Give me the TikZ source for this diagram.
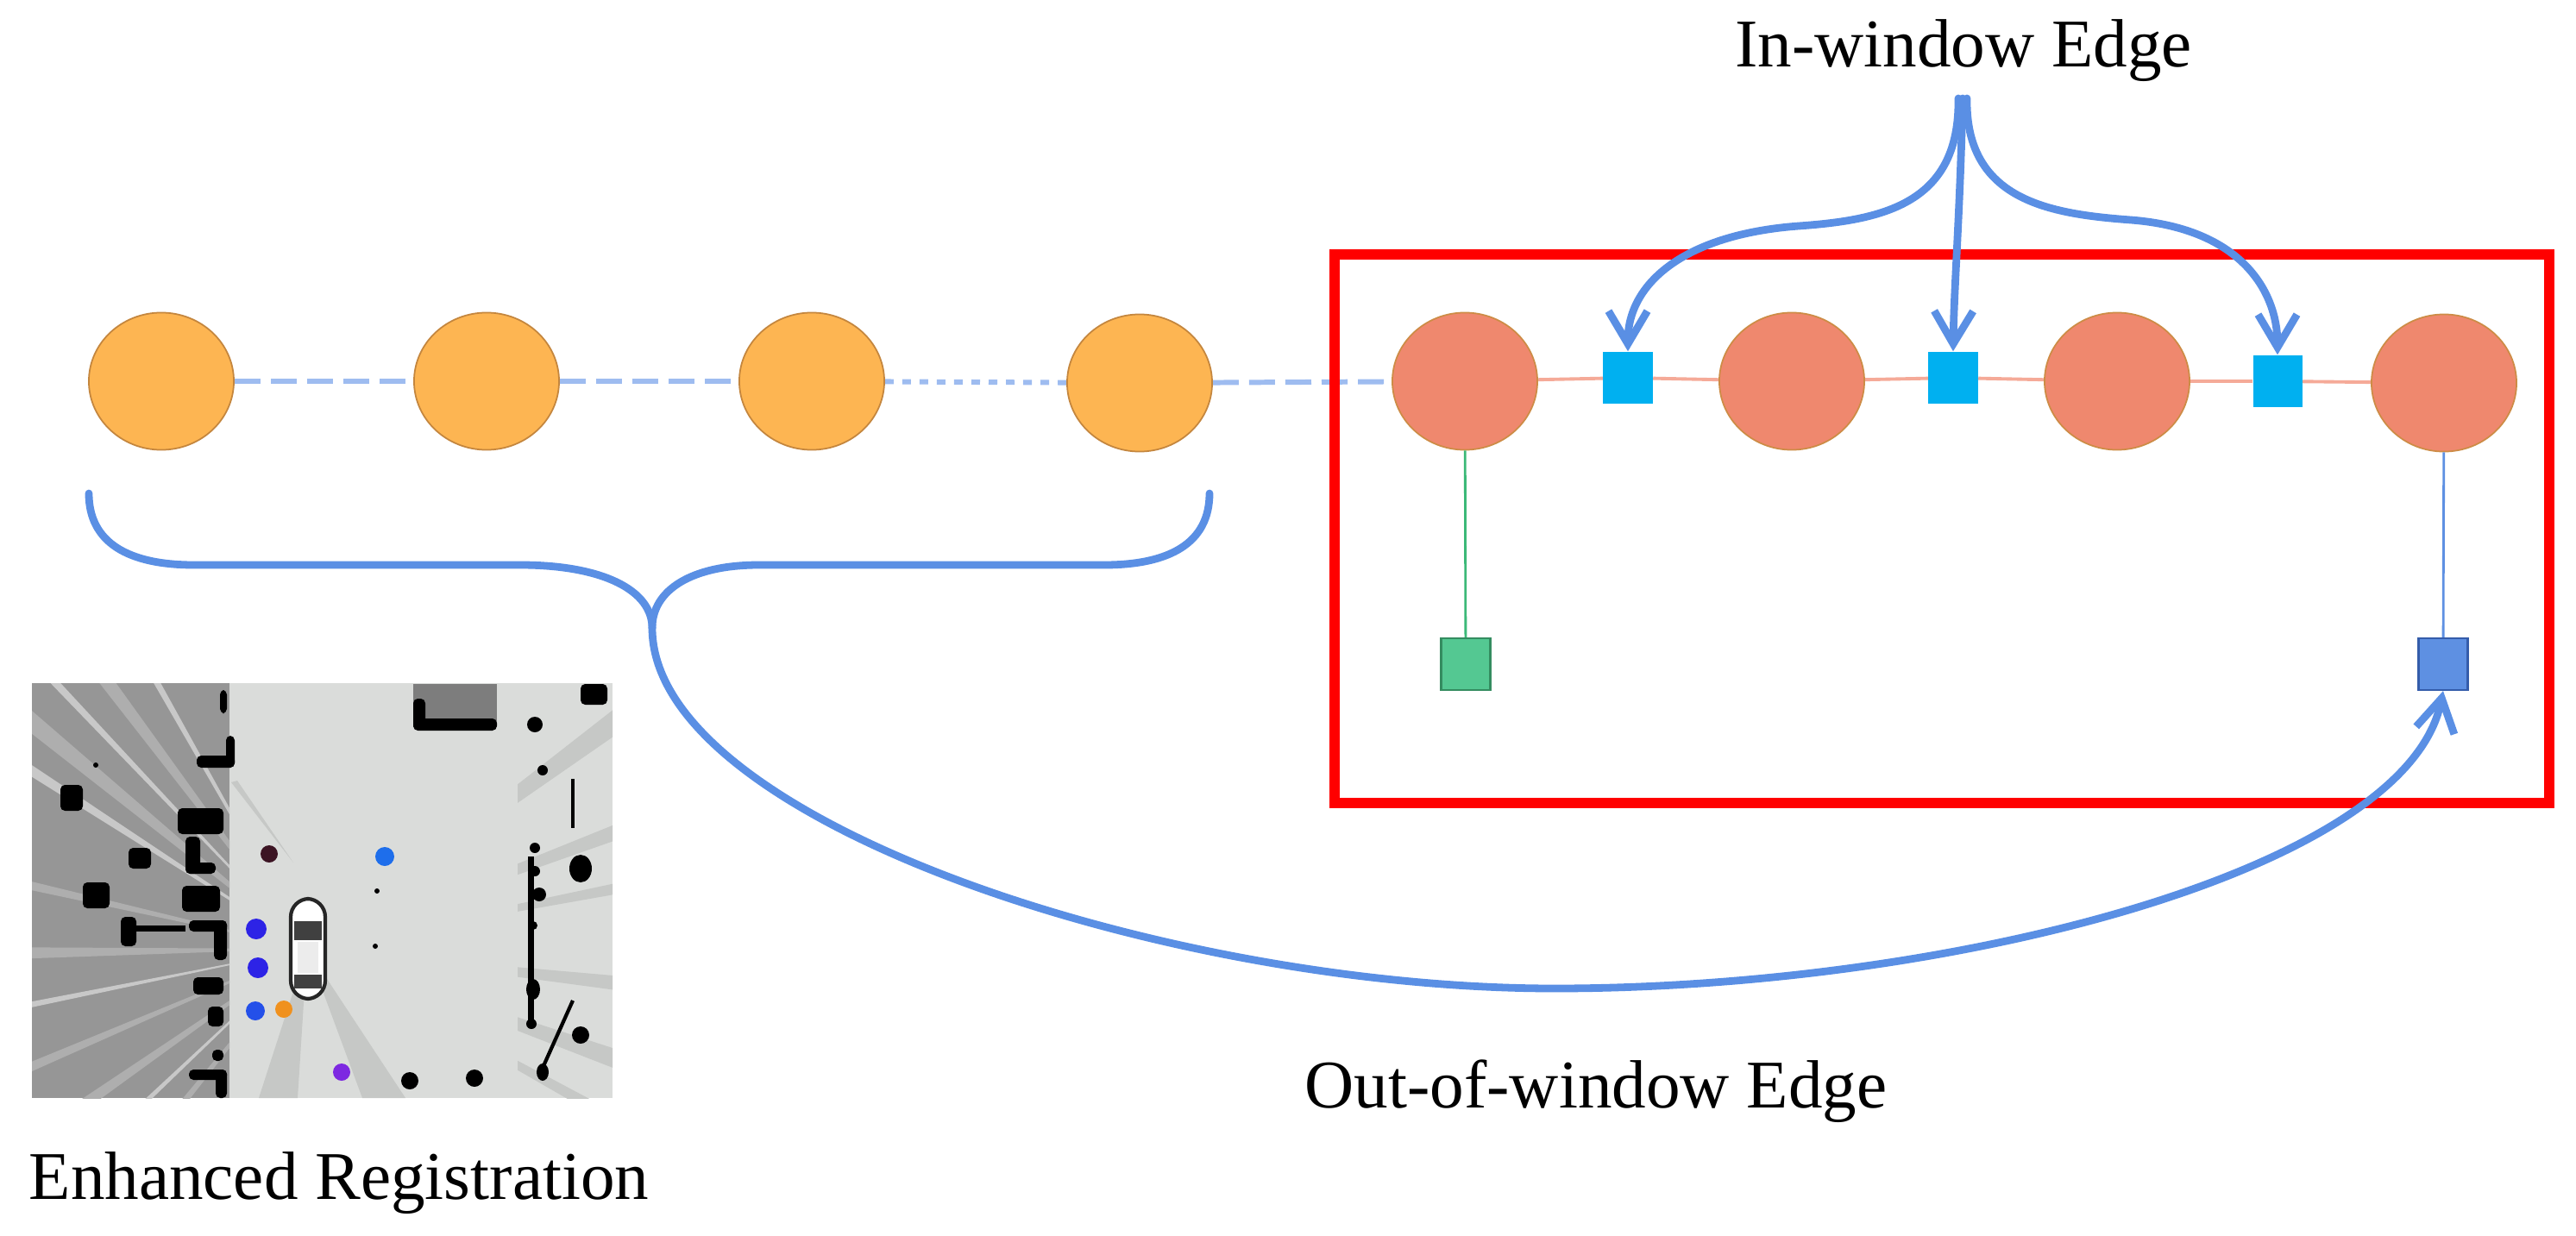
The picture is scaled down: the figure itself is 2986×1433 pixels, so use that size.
\documentclass[tikz,border=0pt]{standalone}
\usepackage{fontspec}
\setmainfont{Liberation Serif}
\usetikzlibrary{arrows.meta,shapes.geometric,backgrounds}

\definecolor{orangeC}{RGB}{253,181,82}
\definecolor{orangeD}{RGB}{196,134,62}
\definecolor{salmonC}{RGB}{239,136,110}
\definecolor{salmonD}{RGB}{205,140,70}
\definecolor{cyanC}{RGB}{0,176,240}
\definecolor{greenC}{RGB}{84,200,146}
\definecolor{greenD}{RGB}{52,140,96}
\definecolor{greenL}{RGB}{60,185,120}
\definecolor{blueC}{RGB}{94,144,226}
\definecolor{blueD}{RGB}{52,92,170}
\definecolor{arrowC}{RGB}{90,143,228}
\definecolor{dashC}{RGB}{158,188,240}
\definecolor{lineR}{RGB}{245,170,152}
\definecolor{frameR}{RGB}{255,0,0}
\definecolor{photoL}{RGB}{218,220,218}
\definecolor{photoM}{RGB}{198,200,198}
\definecolor{photoD}{RGB}{150,150,150}
\definecolor{rayL}{RGB}{174,174,174}
\definecolor{rayW}{RGB}{200,200,200}
\definecolor{blockG}{RGB}{125,125,125}
\definecolor{dotK}{RGB}{60,20,35}
\definecolor{dotB}{RGB}{45,35,230}
\definecolor{dotC}{RGB}{30,110,235}
\definecolor{dotO}{RGB}{240,145,30}
\definecolor{dotP}{RGB}{125,40,225}

\begin{document}
\begin{tikzpicture}[x=0.01cm,y=-0.01cm,
  pose/.style={ellipse, minimum width=1.68cm, minimum height=1.59cm, inner sep=0pt, line width=0.5pt},
  oldpose/.style={pose, fill=orangeC, draw=orangeD},
  winpose/.style={pose, fill=salmonC, draw=salmonD},
  factor/.style={rectangle, minimum width=0.57cm, minimum height=0.60cm, inner sep=0pt},
  inedge/.style={factor, fill=cyanC},
  priorbox/.style={factor, fill=greenC, draw=greenD, line width=0.6pt},
  loopbox/.style={factor, fill=blueC, draw=blueD, line width=0.6pt},
  lbl/.style={font=\fontsize{22.5}{27}\selectfont, inner sep=0pt},
  oldlink/.style={draw=dashC, line width=1.7pt, dash pattern=on 0.30cm off 0.12cm},
  dotlink/.style={draw=dashC, line width=1.7pt, dash pattern=on 0.10cm off 0.10cm},
  winlink/.style={draw=lineR, line width=1.1pt},
  arr/.style={draw=arrowC, line width=2.5pt, line cap=round,
    -{Straight Barb[length=0.38cm,width=0.45cm]}},
  bracecurve/.style={draw=arrowC, line width=2.5pt, line cap=round},
  framebox/.style={draw=frameR, line width=3.2pt},
  blob/.style={fill=black, rounded corners=1.5pt},
]
\useasboundingbox (0,0) rectangle (2986,1433);

% ---------- poses ----------
\node[oldpose] (o1) at (187,442) {};
\node[oldpose] (o2) at (564,442) {};
\node[oldpose] (o3) at (941,442) {};
\node[oldpose] (o4) at (1321,444) {};
\node[winpose] (r1) at (1698,442) {};
\node[winpose] (r2) at (2077,442) {};
\node[winpose] (r3) at (2454,442) {};
\node[winpose] (r4) at (2833,444) {};

% ---------- factors ----------
\node[inedge] (s1) at (1887,438) {};
\node[inedge] (s2) at (2264,438) {};
\node[inedge] (s3) at (2640,442) {};
\node[priorbox] (g) at (1699,770) {};
\node[loopbox] (b) at (2832,770) {};

% ---------- links ----------
\begin{scope}[on background layer]
\draw[oldlink] (o1) -- (o2);
\draw[oldlink] (o2) -- (o3);
\draw[dotlink] (o3) -- (o4);
\draw[oldlink] (o4) -- (r1);
\draw[winlink] (r1) -- (s1) -- (r2) -- (s2) -- (r3) -- (s3) -- (r4);
\end{scope}
\draw[draw=greenL, line width=0.8pt] (r1) -- (g);
\draw[draw=blueC, line width=0.8pt] (r4) -- (b);

% ---------- sliding window ----------
\draw[framebox] (1547,295) rectangle (2955,931);

% ---------- in-window edges ----------
\node[lbl, anchor=base] (iwlabel) at (2276,77) {In-window Edge};
\coordinate (iwa) at (2270,114);
\coordinate (iwb) at (2275,114);
\coordinate (iwc) at (2280,114);
\draw[arr] (iwa) .. controls (2272,235) and (2185,255) .. (2085,262)
  .. controls (1950,272) and (1887,330) .. (s1.north);
\draw[arr] (iwb) .. controls (2272,250) and (2265,330) .. (s2.north);
\draw[arr] (iwc) .. controls (2278,232) and (2375,248) .. (2470,255)
  .. controls (2600,265) and (2640,340) .. (s3.north);

% ---------- brace under old poses and out-of-window edge ----------
\coordinate (bl) at (103,572);
\coordinate (br) at (1402,572);
\coordinate (bj) at (756,728);
\draw[bracecurve] (bl) .. controls (103,630) and (150,655) .. (225,655)
  -- (603,655) .. controls (700,655) and (756,685) .. (bj);
\draw[bracecurve] (br) .. controls (1402,630) and (1355,655) .. (1280,655)
  -- (880,655) .. controls (800,655) and (756,685) .. (bj);
\draw[arr] (bj) .. controls (756,950) and (1350,1146) .. (1802,1146)
  .. controls (2260,1146) and (2790,1010) .. (b.south);
\node[lbl, anchor=base] (owlabel) at (1850,1284) {Out-of-window Edge};

% ---------- registration scan ----------
\begin{scope}
\clip (37,792) rectangle (710,1273);
\fill[photoL] (37,792) rectangle (710,1273);
% left zone with rays from the vehicle
\begin{scope}
\clip (37,792) rectangle (266,1273);
\fill[photoD] (37,792) rectangle (266,1273);
\foreach \a/\w/\c in {212/3/rayW, 218/5/rayL, 226/2/rayW, 232/4/rayL,
  240/2/rayW, 128/3/rayL, 136/2/rayW, 144/4/rayL,
  156/3/rayL, 168/2/rayW, 178/4/rayL, 192/3/rayL}
  \fill[\c] (356,1100) -- ++(\a:700) -- ++(\a+90:\w*7) -- cycle;
\end{scope}
% right zone
\begin{scope}
\clip (600,792) rectangle (710,1273);
\foreach \a/\w in {-38/5, -22/4, -12/3, 5/4, 18/5, 28/3}
  \fill[photoM] (356,1100) -- ++(\a:700) -- ++(\a+90:\w*8) -- cycle;
\end{scope}
\fill[photoM] (356,1100) -- (300,1273) -- (345,1273) -- cycle;
\fill[photoM] (356,1100) -- (420,1273) -- (470,1273) -- cycle;
\fill[photoM] (340,1000) -- (268,907) -- (275,905) -- cycle;
% top-right block
\fill[blockG] (479,793) rectangle (576,843);
\fill[blob] (479,810) rectangle (493,846);
\fill[blob] (479,833) rectangle (576,847);
\fill[blob] (673,793) rectangle (704,817);
% left column
\fill[blob] (255,800) rectangle (263,827);
\fill[blob] (262,853) rectangle (272,890);
\fill[blob] (228,876) rectangle (272,890);
\fill[blob] (206,937) rectangle (259,967);
\fill[blob] (215,970) rectangle (232,1013);
\fill[blob] (215,1000) rectangle (250,1013);
\fill[blob] (211,1027) rectangle (255,1057);
\fill[blob] (219,1067) rectangle (263,1080);
\fill[blob] (248,1067) rectangle (263,1113);
\fill[blob] (224,1133) rectangle (259,1153);
\fill[blob] (241,1167) rectangle (259,1190);
\fill[blob] (246,1217) rectangle (259,1230);
\fill[blob] (219,1240) rectangle (263,1252);
\fill[blob] (250,1240) rectangle (263,1273);
% left area blobs
\fill[blob] (70,910) rectangle (96,940);
\fill[blob] (149,983) rectangle (175,1007);
\fill[blob] (96,1023) rectangle (127,1053);
\fill[blob] (140,1063) rectangle (158,1097);
\fill[black] (153,1073) rectangle (215,1080);
\fill[black] (111,887) circle (3);
% right side features
\fill[black] (620,840) circle (9);
\fill[black] (629,893) circle (6);
\fill[black] (662,903) rectangle (666,960);
\fill[black] (620,983) circle (6);
\fill[black] (612,993) rectangle (619,1190);
\fill[black] (620,1010) circle (6);
\fill[black] (673,1007) ellipse (13 and 16);
\fill[black] (625,1037) circle (8);
\fill[black] (618,1073) circle (5);
\fill[black] (618,1147) ellipse (8 and 12);
\fill[black] (616,1187) circle (6);
\fill[black] (673,1200) circle (10);
\fill[black] (629,1243) ellipse (7 and 10);
\draw[black, line width=1.2pt] (664,1160) -- (625,1247);
\fill[black] (550,1250) circle (10);
\fill[black] (475,1253) circle (10);
\fill[black] (437,1033) circle (3);
\fill[black] (435,1097) circle (3);
% vehicle
\fill[white, draw=black!85, line width=1.2pt, rounded corners=6pt] (337,1042) rectangle (377,1158);
\fill[black!75] (341,1068) rectangle (373,1090);
\fill[white!85!gray] (345,1092) rectangle (369,1128);
\fill[black!75] (341,1130) rectangle (373,1146);
% detections
\fill[dotK] (312,990) circle (10);
\fill[dotC] (446,993) circle (11);
\fill[dotB] (297,1077) circle (12);
\fill[dotB] (299,1122) circle (12);
\fill[dotC!60!dotB] (296,1172) circle (11);
\fill[dotO] (329,1170) circle (10);
\fill[dotP] (396,1243) circle (10);
\end{scope}
\node[lbl, anchor=base west] (erlabel) at (33,1390) {Enhanced Registration};
\end{tikzpicture}
\end{document}
